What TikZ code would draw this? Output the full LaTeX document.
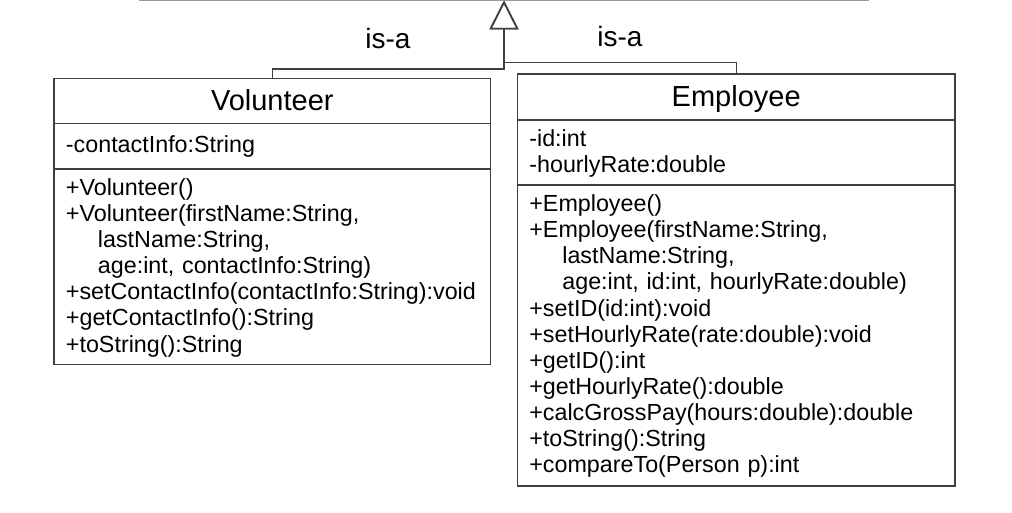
\documentclass[tikz,border=0pt]{standalone}
\usepackage{fontspec}
\setmainfont{Liberation Sans}
\usetikzlibrary{positioning,arrows.meta}
\hyphenpenalty=10000
\exhyphenpenalty=10000
\newcommand{\umlstrut}{\rule[-6.4pt]{0pt}{26.16pt}}
\colorlet{umlline}{black!75}

\begin{document}
\begin{tikzpicture}[x=1pt,y=1pt,
    every node/.style={outer sep=0pt},
    classname/.style={draw=umlline, line width=1.3pt, minimum width=#1, minimum height=45pt,
      text height=21pt, text depth=1pt, inner sep=0pt, font=\fontsize{29}{34}\selectfont},
    members/.style={draw=umlline, line width=1.3pt, text width=#1, align=left,
      inner xsep=12pt, inner ysep=0pt, font=\fontsize{23.3}{26.16}\selectfont,
      execute at begin node=\umlstrut, execute at end node=\umlstrut},
    isa/.style={font=\fontsize{28}{32}\selectfont, anchor=base},
    inherit/.style={draw=umlline, line width=1.3pt,
      -{Triangle[open,length=29pt,width=29pt,line width=1.6pt]}}]
  \useasboundingbox (0,0) rectangle (1012,-513);

  % base class, cut off at the top
  \draw[black!40, line width=1pt] (139,-0.5) -- (869,-0.5);
  \coordinate (person) at (504,-0.5);

  % Volunteer
  \node[classname=436.7pt] (vol) at (272.3,-100.8) {Volunteer};
  \node[members=412.7pt, minimum height=45.7pt, below=0pt of vol] (volattr) {-contactInfo:String};
  \node[members=412.7pt, minimum height=195.7pt, below=0pt of volattr] (volops)
    {+Volunteer()\\
     +Volunteer(firstName:String,\\
     \hspace*{32pt}lastName:String,\\
     \hspace*{32pt}age:int, contactInfo:String)\\
     +setContactInfo(contactInfo:String):void\\
     +getContactInfo():String\\
     +toString():String};

  % Employee
  \node[classname=437.7pt, minimum height=46pt] (emp) at (736.2,-97) {Employee};
  \node[members=413.7pt, minimum height=65pt, below=0pt of emp] (empattr) {-id:int\\ -hourlyRate:double};
  \node[members=413.7pt, minimum height=301pt, below=0pt of empattr] (empops)
    {+Employee()\\
     +Employee(firstName:String,\\
     \hspace*{33pt}lastName:String,\\
     \hspace*{33pt}age:int, id:int, hourlyRate:double)\\
     +setID(id:int):void\\
     +setHourlyRate(rate:double):void\\
     +getID():int\\
     +getHourlyRate():double\\
     +calcGrossPay(hours:double):double\\
     +toString():String\\
     +compareTo(Person p):int};

  % is-a links
  \draw[inherit] (vol.north) -- ++(0,9.3) -| (person);
  \draw[inherit] (emp.north) -- ++(0,11.7) -| (person);
  \node[isa] (isavol) at (388,-48.3) {is-a};
  \node[isa] (isaemp) at (620,-46.7) {is-a};
\end{tikzpicture}
\end{document}
